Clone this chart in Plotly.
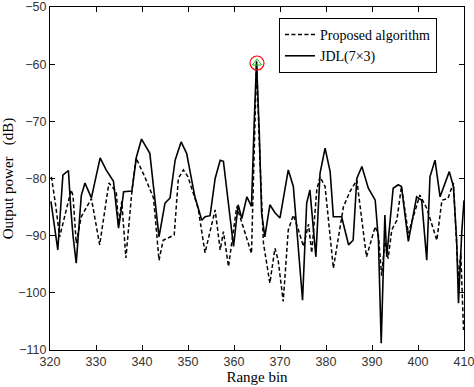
import plotly.graph_objects as go

# JDL(7x3) curve: range bin, output power (dB)
jdl_bin = [320.2, 321.7, 322.8, 324.0, 324.5, 325.0, 325.7, 326.8, 327.6, 329.0,
           330.9, 332.2, 333.8, 334.9, 335.6, 336.0, 337.8, 338.8, 339.9, 341.7,
           343.7, 345.0, 346.1, 347.2, 348.5, 349.7, 351.5, 353.0, 353.7, 354.8,
           355.9, 357.0, 357.7, 359.9, 360.9, 361.7, 362.8, 363.8, 364.4, 364.9,
           365.5, 366.0, 366.7, 367.8, 368.9, 370.0, 371.8, 372.9, 374.9, 375.8,
           376.5, 377.8, 378.7, 379.8, 380.9, 381.6, 383.4, 384.9, 385.9, 386.7,
           387.8, 389.2, 390.7, 391.4, 392.0, 392.8, 393.2, 393.9, 394.6, 395.7,
           396.4, 397.9, 399.7, 400.8, 401.9, 402.6, 403.7, 404.8, 406.8, 407.7,
           408.4, 408.8, 409.5, 410.0]
jdl_db = [-84.0, -92.5, -79.4, -78.6, -85.0, -90.0, -94.8, -83.0, -80.8, -83.4,
          -76.4, -78.5, -80.5, -88.7, -84.9, -82.3, -82.2, -76.2, -73.1, -75.6,
          -90.2, -84.3, -83.4, -76.8, -73.6, -75.6, -83.2, -87.3, -86.7, -86.5,
          -80.0, -76.8, -77.0, -91.9, -84.6, -87.0, -83.2, -84.9, -70.0, -59.5,
          -72.0, -86.0, -90.2, -84.6, -86.0, -86.9, -78.5, -81.4, -101.3, -84.3,
          -82.0, -93.7, -79.1, -74.7, -78.8, -86.7, -86.7, -91.6, -90.8, -80.0,
          -77.9, -81.7, -83.8, -90.8, -108.8, -86.4, -93.7, -87.3, -81.7, -81.1,
          -81.4, -91.0, -83.2, -83.8, -94.3, -79.7, -76.8, -83.2, -78.8, -81.4,
          -90.8, -101.8, -89.6, -83.8]

# Proposed algorithm curve
prop_bin = [320.3, 321.2, 322.1, 323.3, 324.6, 325.0, 325.7, 326.8, 329.0, 330.8,
            332.8, 334.4, 334.9, 335.6, 336.5, 337.8, 338.7, 340.6, 342.5, 343.7,
            344.6, 347.0, 347.9, 349.0, 350.0, 352.2, 353.7, 355.9, 357.0, 357.7,
            358.8, 360.6, 362.0, 363.8, 364.5, 364.9, 365.6, 366.4, 367.8, 368.9,
            369.6, 370.7, 371.8, 372.9, 374.0, 375.1, 376.2, 376.9, 378.0, 378.7,
            379.8, 381.6, 383.8, 385.2, 386.7, 388.8, 390.7, 391.4, 392.1, 392.8,
            393.5, 394.3, 395.4, 396.4, 397.9, 400.4, 401.9, 404.1, 405.2, 406.5,
            407.7, 408.8, 409.3, 409.9]
prop_db = [-79.7, -84.5, -90.2, -86.0, -82.0, -83.0, -91.3, -86.7, -83.5, -91.6,
           -80.8, -82.3, -88.0, -84.0, -93.9, -82.3, -76.4, -79.7, -83.4, -94.3,
           -90.8, -89.9, -80.0, -78.5, -79.7, -85.2, -93.0, -85.5, -92.5, -89.3,
           -95.4, -84.9, -88.4, -93.1, -72.0, -60.0, -76.0, -91.3, -98.3, -92.2,
           -94.3, -101.5, -89.0, -86.4, -89.0, -91.9, -88.0, -93.0, -82.0, -79.7,
           -81.4, -95.7, -84.9, -82.3, -80.3, -93.7, -88.4, -90.0, -97.0, -91.0,
           -94.0, -89.0, -87.3, -81.4, -89.6, -82.9, -85.2, -90.8, -83.8, -83.5,
           -80.8, -97.8, -93.0, -106.5]

peak_bin = [365.0]
peak_db = [-59.8]

x_ticks = list(range(320, 411, 10))
y_ticks = list(range(-110, -49, 10))

fig = go.Figure()
fig.add_trace(go.Scatter(x=prop_bin, y=prop_db, mode="lines", name="Proposed algorithm",
                         line=dict(color="black", width=1.5, dash="4px,2.5px")))
fig.add_trace(go.Scatter(x=jdl_bin, y=jdl_db, mode="lines", name="JDL(7×3)",
                         line=dict(color="black", width=1.6)))
fig.add_trace(go.Scatter(x=peak_bin, y=peak_db, mode="markers", showlegend=False,
                         marker=dict(symbol="circle-open", size=14, color="red",
                                     line=dict(width=1.2, color="red"))))
fig.add_trace(go.Scatter(x=peak_bin, y=peak_db, mode="markers", showlegend=False,
                         marker=dict(symbol="triangle-up-open", size=8, color="#22bb22",
                                     line=dict(width=1, color="#22bb22"))))

axis_common = dict(showgrid=False, zeroline=False, showline=True, linecolor="black",
                   linewidth=1, mirror="ticks", ticks="inside", ticklen=5,
                   tickcolor="black", automargin=False, ticklabeloverflow="allow",
                   tickfont=dict(family="Liberation Sans, Arial", size=12.5, color="#333"))

fig.update_xaxes(range=[320, 410], tickvals=x_ticks, ticklabelstandoff=0,
                 title=dict(text="Range bin", standoff=3,
                            font=dict(family="Liberation Serif, Times New Roman", size=15, color="black")),
                 **axis_common)
fig.update_yaxes(range=[-110, -50], tickvals=y_ticks,
                 title=dict(text="Output power\u00a0\u00a0\u00a0(dB)", standoff=5,
                            font=dict(family="Liberation Serif, Times New Roman", size=15, color="black")),
                 **axis_common)

fig.update_layout(
    width=474, height=387,
    margin=dict(l=50, r=10, t=7, b=37),
    paper_bgcolor="white", plot_bgcolor="white",
    showlegend=True,
    legend=dict(x=0.553, y=0.968, xanchor="left", yanchor="top",
                bgcolor="white", bordercolor="black", borderwidth=1,
                font=dict(family="Liberation Serif, Times New Roman", size=14, color="black"),
                tracegroupgap=0, itemwidth=30),
)

# remove the page's default body margin so the figure sits at the window's corner
fig.write_html("out.html", config={"displayModeBar": False},
               post_script="document.body.style.margin='0';document.body.style.overflow='hidden';")
